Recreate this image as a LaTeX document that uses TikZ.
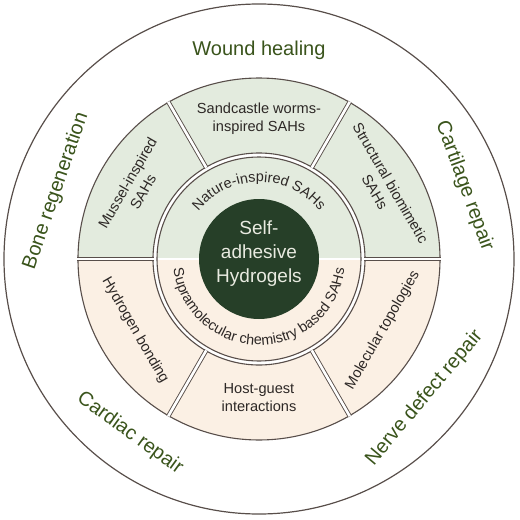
\documentclass[tikz,border=0pt]{standalone}
\usepackage{fontspec}
\setmainfont{Liberation Sans}
\usepackage{tikz}
\usetikzlibrary{decorations.text}
\definecolor{ringedge}{RGB}{88,78,74}
\definecolor{sagefill}{RGB}{227,235,222}
\definecolor{peachfill}{RGB}{251,240,228}
\definecolor{hubgreen}{RGB}{38,63,40}
\definecolor{hubtext}{RGB}{232,234,224}
\definecolor{labelgray}{RGB}{45,40,38}
\definecolor{leafgreen}{RGB}{58,84,28}

\begin{document}
\begin{tikzpicture}[x=1pt, y=1pt,
    segline/.style={draw=ringedge, line width=1.1pt},
    seggap/.style={draw=ringedge, line width=0.9pt, double=white, double distance=2.6pt},
    seglabel/.style={align=center, text=labelgray, font=\fontsize{14.6}{18}\selectfont, inner sep=0pt},
    applabel/.style={text=leafgreen, font=\fontsize{20}{22}\selectfont, inner sep=0pt},
    hubtxt/.style={align=center, text=hubtext, font=\fontsize{19}{24}\selectfont, inner sep=0pt}
]
\useasboundingbox (-259,-261) rectangle (261,259);
% outer ring
\draw[ringedge, line width=1.2pt] (0,0) circle[radius=255pt];
% six segments
\foreach \a/\b/\c in {0/60/sagefill, 60/120/sagefill, 120/180/sagefill,
                      180/240/peachfill, 240/300/peachfill, 300/360/peachfill}
  \filldraw[segline, fill=\c] (\a:106pt) arc[start angle=\a, end angle=\b, radius=106pt]
      -- (\b:181pt) arc[start angle=\b, end angle=\a, radius=181pt] -- cycle;
\foreach \a in {0,60,...,300}
  \draw[seggap] (\a:105.4pt) -- (\a:181.6pt);
% inner ring
\fill[sagefill] (0:102pt) arc[start angle=0, end angle=180, radius=102pt] -- cycle;
\fill[peachfill] (180:102pt) arc[start angle=180, end angle=360, radius=102pt] -- cycle;
\draw[white, line width=1.5pt] (180:102pt) -- (0:102pt);
\draw[segline] (0,0) circle[radius=102pt];
\path[decorate, decoration={text along path, text align=center, text color=labelgray,
    text={|\fontsize{14.4}{14}\selectfont|Nature-inspired SAHs}}]
  (180:77pt) arc[start angle=180, end angle=0, radius=77pt];
\path[decorate, decoration={text along path, text align=center, text color=labelgray,
    text={|\fontsize{14.4}{14}\selectfont|Supramolecular chemistry based SAHs}}]
  (180:86pt) arc[start angle=180, end angle=360, radius=86pt];
% hub
\fill[hubgreen] (0,0) circle[radius=60pt];
\node[hubtxt] (hub) at (0,5) {Self-\\adhesive\\Hydrogels};
% segment labels
\node[seglabel] (sand) at (0,140) {Sandcastle worms-\\inspired SAHs};
\node[seglabel, rotate=60] (mussel) at (150:143pt) {Mussel-inspired\\SAHs};
\node[seglabel, rotate=-60] (struct) at (30:143pt) {Structural biomimetic\\SAHs};
\node[seglabel, rotate=-60] (hbond) at (210:143pt) {Hydrogen bonding};
\node[seglabel] (host) at (0,-139) {Host-guest\\interactions};
\node[seglabel, rotate=60] (topo) at (-30:143pt) {Molecular topologies};
% applications
\node[applabel] (wound) at (0,209) {Wound healing};
\node[applabel, rotate=71] (bone) at (161.5:214pt) {Bone regeneration};
\node[applabel, rotate=-70] (cart) at (19.5:218pt) {Cartilage repair};
\node[applabel, rotate=-36] (card) at (233.5:217pt) {Cardiac repair};
\node[applabel, rotate=50] (nerve) at (-40:216pt) {Nerve defect repair};
\end{tikzpicture}
\end{document}
